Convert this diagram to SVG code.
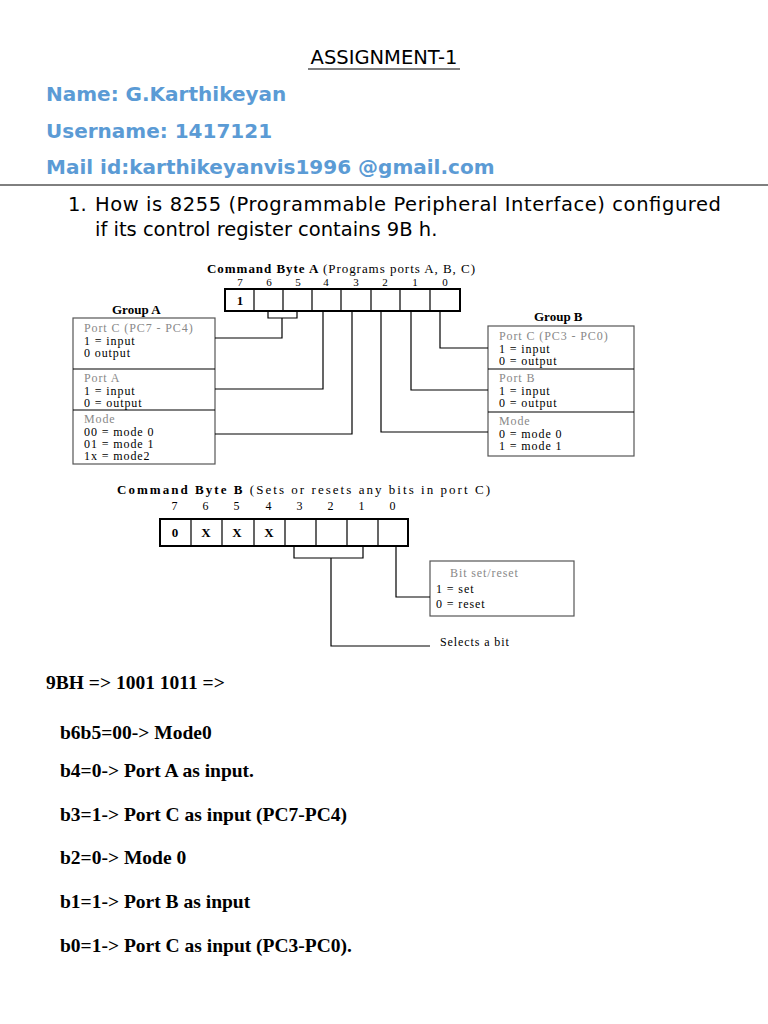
<svg xmlns="http://www.w3.org/2000/svg" width="768" height="1024" viewBox="0 0 768 1024">
<style>
.t{font-family:"DejaVu Sans",sans-serif;font-size:19.5px;fill:#000}
.b{font-family:"DejaVu Sans",sans-serif;font-size:20px;font-weight:bold;fill:#5b9bd5}
.s{font-family:"Liberation Serif",serif;font-size:12px;letter-spacing:0.9px;fill:#000}
.n{font-family:"Liberation Serif",serif;font-size:11px;fill:#000}
.sb{font-family:"Liberation Serif",serif;font-size:13px;font-weight:bold;fill:#000}
.g{font-family:"Liberation Serif",serif;font-size:12px;letter-spacing:0.9px;fill:#888}
.a{font-family:"Liberation Serif",serif;font-size:19.5px;font-weight:bold;fill:#000}
.box{fill:#fff;stroke:#000;stroke-width:2}
.gb{fill:#fff;stroke:#555;stroke-width:1.2}
.ln{fill:none;stroke:#000;stroke-width:1.2}
</style>
<rect width="768" height="1024" fill="#fff"/>
<text class="t" x="384" y="64" text-anchor="middle">ASSIGNMENT-1</text>
<line x1="308" y1="69" x2="460" y2="69" stroke="#000" stroke-width="1"/>
<text class="b" x="46" y="101">Name: G.Karthikeyan</text>
<text class="b" x="46" y="138">Username: 1417121</text>
<text class="b" x="46" y="174">Mail id:karthikeyanvis1996 @gmail.com</text>
<line x1="0" y1="185" x2="768" y2="185" stroke="#000" stroke-width="1"/>
<text class="t" x="68" y="211">1.</text>
<text class="t" x="95" y="211" textLength="626">How is 8255 (Programmable Peripheral Interface) configured</text>
<text class="t" x="95" y="236">if its control register contains 9B h.</text>

<g id="byteA">
<text class="sb" x="207" y="273" textLength="268">Command Byte A  <tspan font-weight="normal">(Programs ports A, B, C)</tspan></text>
<g class="n" text-anchor="middle">
<text x="240" y="286">7</text><text x="269" y="286">6</text><text x="298" y="286">5</text><text x="326" y="286">4</text><text x="356" y="286">3</text><text x="385" y="286">2</text><text x="415" y="286">1</text><text x="445" y="286">0</text>
</g>
<rect class="box" x="225" y="289" width="235" height="22"/>
<path class="ln" d="M254 289V311M283 289V311M312 289V311M341 289V311M371 289V311M400 289V311M430 289V311"/>
<text class="sb" x="240" y="305" text-anchor="middle" font-size="11">1</text>
</g>
<g id="groupA">
<text class="sb" x="112" y="314">Group A</text>
<rect class="gb" x="73" y="318" width="142" height="146"/>
<path class="ln" d="M73 369H215M73 410H215"/>
<text class="g" x="84" y="332">Port C (PC7 - PC4)</text>
<text class="s" x="84" y="345">1 = input</text>
<text class="s" x="84" y="357">0 output</text>
<text class="g" x="84" y="382">Port A</text>
<text class="s" x="84" y="395">1 = input</text>
<text class="s" x="84" y="407">0 = output</text>
<text class="g" x="84" y="423">Mode</text>
<text class="s" x="84" y="436">00 = mode 0</text>
<text class="s" x="84" y="448">01 = mode 1</text>
<text class="s" x="84" y="460">1x = mode2</text>
</g>
<g id="groupB">
<text class="sb" x="534" y="321">Group B</text>
<rect class="gb" x="488" y="326" width="146" height="130"/>
<path class="ln" d="M488 369H634M488 412H634"/>
<text class="g" x="499" y="340">Port C (PC3 - PC0)</text>
<text class="s" x="499" y="353">1 = input</text>
<text class="s" x="499" y="365">0 = output</text>
<text class="g" x="499" y="382">Port B</text>
<text class="s" x="499" y="395">1 = input</text>
<text class="s" x="499" y="407">0 = output</text>
<text class="g" x="499" y="425">Mode</text>
<text class="s" x="499" y="438">0 = mode 0</text>
<text class="s" x="499" y="450">1 = mode 1</text>
</g>

<g id="byteB">
<text class="sb" x="117" y="494" textLength="373">Command Byte B   <tspan font-weight="normal">(Sets or resets any bits in port C)</tspan></text>
<g class="s" text-anchor="middle">
<text x="175" y="510">7</text><text x="206" y="510">6</text><text x="237" y="510">5</text><text x="269" y="510">4</text><text x="300" y="510">3</text><text x="331" y="510">2</text><text x="362" y="510">1</text><text x="393" y="510">0</text>
</g>
<rect class="box" x="160" y="519" width="248" height="27"/>
<path class="ln" d="M191 519V546M222 519V546M254 519V546M285 519V546M316 519V546M347 519V546M378 519V546"/>
<g class="sb" text-anchor="middle"><text x="175" y="537">0</text><text x="206" y="537">X</text><text x="237" y="537">X</text><text x="269" y="537">X</text></g>
</g>
<g id="bitSetReset">
<rect class="gb" x="430" y="561" width="144" height="55"/>
<text class="g" x="450" y="577">Bit set/reset</text>
<text class="s" x="436" y="593">1 = set</text>
<text class="s" x="436" y="608">0 = reset</text>
</g>
<g id="selects">
<text class="s" x="440" y="646">Selects a bit</text>
</g>

<g id="connectors" class="ln">
<path d="M268 311V318H297V311M282 318V338H215"/>
<path d="M323 311V389H215"/>
<path d="M352 311V434H215"/>
<path d="M381 311V432H488"/>
<path d="M411 311V390H488"/>
<path d="M440 311V348H488"/>
<path d="M294 546V558H363V546M331 558V646H430"/>
<path d="M396 546V597H430"/>
</g>

<text class="a" x="46" y="689">9BH =&gt; 1001 1011 =&gt;</text>
<text class="a" x="60" y="739">b6b5=00-&gt; Mode0</text>
<text class="a" x="60" y="777">b4=0-&gt; Port A as input.</text>
<text class="a" x="60" y="821">b3=1-&gt; Port C as input (PC7-PC4)</text>
<text class="a" x="60" y="864">b2=0-&gt; Mode 0</text>
<text class="a" x="60" y="908">b1=1-&gt; Port B as input</text>
<text class="a" x="60" y="952">b0=1-&gt; Port C as input (PC3-PC0).</text>
</svg>
